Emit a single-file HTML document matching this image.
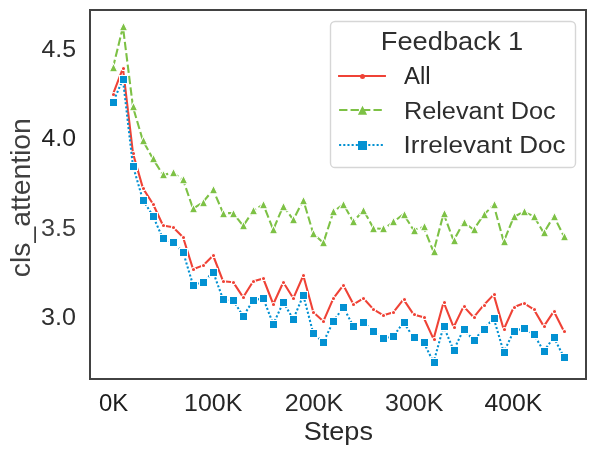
<!DOCTYPE html>
<html><head><meta charset="utf-8"><title>cls_attention vs Steps</title>
<style>html,body{margin:0;padding:0;background:#fff;width:596px;height:455px;overflow:hidden}svg{display:block}</style>
</head><body>
<svg width="596" height="455" viewBox="0 0 596 455">
<rect width="596" height="455" fill="#fff"/>
<polyline points="112.92,94.40 122.95,68.05 132.97,153.20 142.99,188.40 153.01,204.00 163.03,225.50 173.05,227.30 183.07,237.30 193.09,269.30 203.11,265.40 213.13,255.50 223.15,281.30 233.17,282.20 243.19,297.30 253.21,281.30 263.23,278.50 273.25,304.20 283.27,282.20 293.29,298.30 303.31,275.50 313.33,312.30 323.35,321.30 333.37,298.30 343.39,285.20 353.41,304.30 363.43,298.30 373.45,309.40 383.47,315.30 393.49,312.20 403.51,299.30 413.53,314.40 423.55,317.30 433.57,339.10 443.59,302.20 453.61,327.20 463.63,306.40 473.65,317.30 483.67,305.20 493.69,294.60 503.71,329.50 513.73,307.20 523.75,303.20 533.77,309.30 543.79,326.40 553.81,311.30 563.83,331.10" fill="none" stroke="#EF4236" stroke-width="2.0833" stroke-linejoin="round" stroke-linecap="square"/><g fill="#EF4236" stroke="#fff" stroke-width="1.0417"><circle cx="113.5" cy="94.5" r="2.0833"/><circle cx="123.5" cy="68.5" r="2.0833"/><circle cx="133.5" cy="153.5" r="2.0833"/><circle cx="143.5" cy="188.5" r="2.0833"/><circle cx="153.5" cy="204.5" r="2.0833"/><circle cx="163.5" cy="225.5" r="2.0833"/><circle cx="173.5" cy="227.5" r="2.0833"/><circle cx="183.5" cy="237.5" r="2.0833"/><circle cx="193.5" cy="269.5" r="2.0833"/><circle cx="203.5" cy="265.5" r="2.0833"/><circle cx="213.5" cy="255.5" r="2.0833"/><circle cx="223.5" cy="281.5" r="2.0833"/><circle cx="233.5" cy="282.5" r="2.0833"/><circle cx="243.5" cy="297.5" r="2.0833"/><circle cx="253.5" cy="281.5" r="2.0833"/><circle cx="263.5" cy="278.5" r="2.0833"/><circle cx="273.5" cy="304.5" r="2.0833"/><circle cx="283.5" cy="282.5" r="2.0833"/><circle cx="293.5" cy="298.5" r="2.0833"/><circle cx="303.5" cy="275.5" r="2.0833"/><circle cx="313.5" cy="312.5" r="2.0833"/><circle cx="323.5" cy="321.5" r="2.0833"/><circle cx="333.5" cy="298.5" r="2.0833"/><circle cx="343.5" cy="285.5" r="2.0833"/><circle cx="353.5" cy="304.5" r="2.0833"/><circle cx="363.5" cy="298.5" r="2.0833"/><circle cx="373.5" cy="309.5" r="2.0833"/><circle cx="383.5" cy="315.5" r="2.0833"/><circle cx="393.5" cy="312.5" r="2.0833"/><circle cx="404.5" cy="299.5" r="2.0833"/><circle cx="414.5" cy="314.5" r="2.0833"/><circle cx="424.5" cy="317.5" r="2.0833"/><circle cx="434.5" cy="339.5" r="2.0833"/><circle cx="444.5" cy="302.5" r="2.0833"/><circle cx="454.5" cy="327.5" r="2.0833"/><circle cx="464.5" cy="306.5" r="2.0833"/><circle cx="474.5" cy="317.5" r="2.0833"/><circle cx="484.5" cy="305.5" r="2.0833"/><circle cx="494.5" cy="294.5" r="2.0833"/><circle cx="504.5" cy="329.5" r="2.0833"/><circle cx="514.5" cy="307.5" r="2.0833"/><circle cx="524.5" cy="303.5" r="2.0833"/><circle cx="534.5" cy="309.5" r="2.0833"/><circle cx="544.5" cy="326.5" r="2.0833"/><circle cx="554.5" cy="311.5" r="2.0833"/><circle cx="564.5" cy="331.5" r="2.0833"/></g><polyline points="112.92,67.90 122.95,26.90 132.97,107.00 142.99,140.90 153.01,158.90 163.03,175.00 173.05,172.80 183.07,179.80 193.09,208.80 203.11,202.00 213.13,189.70 223.15,213.10 233.17,213.10 243.19,225.90 253.21,210.80 263.23,204.40 273.25,229.60 283.27,206.00 293.29,219.80 303.31,200.10 313.33,233.70 323.35,242.90 333.37,211.90 343.39,204.00 353.41,221.90 363.43,210.00 373.45,228.20 383.47,229.00 393.49,221.90 403.51,214.10 413.53,230.00 423.55,227.00 433.57,251.80 443.59,213.60 453.61,240.70 463.63,222.00 473.65,229.80 483.67,214.90 493.69,204.80 503.71,241.70 513.73,216.90 523.75,211.90 533.77,216.10 543.79,232.90 553.81,216.10 563.83,236.20" fill="none" stroke="#7DC145" stroke-width="2.0833" stroke-linejoin="round" stroke-dasharray="8.333,3.125"/><g fill="#7DC145" stroke="#fff" stroke-width="1.0417" stroke-linejoin="miter"><path d="M113.50,63.33L109.33,71.67L117.67,71.67Z"/><path d="M123.50,22.33L119.33,30.67L127.67,30.67Z"/><path d="M133.50,102.33L129.33,110.67L137.67,110.67Z"/><path d="M143.50,136.33L139.33,144.67L147.67,144.67Z"/><path d="M153.50,154.33L149.33,162.67L157.67,162.67Z"/><path d="M163.50,170.33L159.33,178.67L167.67,178.67Z"/><path d="M173.50,168.33L169.33,176.67L177.67,176.67Z"/><path d="M183.50,175.33L179.33,183.67L187.67,183.67Z"/><path d="M193.50,204.33L189.33,212.67L197.67,212.67Z"/><path d="M203.50,198.33L199.33,206.67L207.67,206.67Z"/><path d="M213.50,185.33L209.33,193.67L217.67,193.67Z"/><path d="M223.50,209.33L219.33,217.67L227.67,217.67Z"/><path d="M233.50,209.33L229.33,217.67L237.67,217.67Z"/><path d="M243.50,221.33L239.33,229.67L247.67,229.67Z"/><path d="M253.50,206.33L249.33,214.67L257.67,214.67Z"/><path d="M263.50,200.33L259.33,208.67L267.67,208.67Z"/><path d="M273.50,225.33L269.33,233.67L277.67,233.67Z"/><path d="M283.50,202.33L279.33,210.67L287.67,210.67Z"/><path d="M293.50,215.33L289.33,223.67L297.67,223.67Z"/><path d="M303.50,196.33L299.33,204.67L307.67,204.67Z"/><path d="M313.50,229.33L309.33,237.67L317.67,237.67Z"/><path d="M323.50,238.33L319.33,246.67L327.67,246.67Z"/><path d="M333.50,207.33L329.33,215.67L337.67,215.67Z"/><path d="M343.50,200.33L339.33,208.67L347.67,208.67Z"/><path d="M353.50,217.33L349.33,225.67L357.67,225.67Z"/><path d="M363.50,206.33L359.33,214.67L367.67,214.67Z"/><path d="M373.50,224.33L369.33,232.67L377.67,232.67Z"/><path d="M383.50,224.33L379.33,232.67L387.67,232.67Z"/><path d="M393.50,217.33L389.33,225.67L397.67,225.67Z"/><path d="M404.50,210.33L400.33,218.67L408.67,218.67Z"/><path d="M414.50,226.33L410.33,234.67L418.67,234.67Z"/><path d="M424.50,222.33L420.33,230.67L428.67,230.67Z"/><path d="M434.50,247.33L430.33,255.67L438.67,255.67Z"/><path d="M444.50,209.33L440.33,217.67L448.67,217.67Z"/><path d="M454.50,236.33L450.33,244.67L458.67,244.67Z"/><path d="M464.50,218.33L460.33,226.67L468.67,226.67Z"/><path d="M474.50,225.33L470.33,233.67L478.67,233.67Z"/><path d="M484.50,210.33L480.33,218.67L488.67,218.67Z"/><path d="M494.50,200.33L490.33,208.67L498.67,208.67Z"/><path d="M504.50,237.33L500.33,245.67L508.67,245.67Z"/><path d="M514.50,212.33L510.33,220.67L518.67,220.67Z"/><path d="M524.50,207.33L520.33,215.67L528.67,215.67Z"/><path d="M534.50,212.33L530.33,220.67L538.67,220.67Z"/><path d="M544.50,228.33L540.33,236.67L548.67,236.67Z"/><path d="M554.50,212.33L550.33,220.67L558.67,220.67Z"/><path d="M564.50,232.33L560.33,240.67L568.67,240.67Z"/></g><polyline points="112.92,102.30 122.95,79.40 132.97,166.10 142.99,200.20 153.01,216.00 163.03,239.00 173.05,242.30 183.07,252.00 193.09,285.20 203.11,282.20 213.13,272.10 223.15,299.50 233.17,300.30 243.19,316.20 253.21,300.30 263.23,298.30 273.25,324.20 283.27,302.30 293.29,319.20 303.31,295.30 313.33,333.50 323.35,342.20 333.37,321.30 343.39,307.30 353.41,326.30 363.43,322.20 373.45,331.20 383.47,338.40 393.49,336.20 403.51,322.30 413.53,337.40 423.55,342.10 433.57,362.40 443.59,326.30 453.61,350.30 463.63,329.30 473.65,340.20 483.67,329.30 493.69,318.10 503.71,352.20 513.73,331.40 523.75,328.30 533.77,334.20 543.79,351.30 553.81,337.30 563.83,357.10" fill="none" stroke="#0391D2" stroke-width="2.0833" stroke-linejoin="round" stroke-dasharray="2.083,2.083" stroke-dashoffset="2.083"/><g><rect x="109.0" y="98.0" width="9" height="9" fill="#fff"/><rect x="110.0" y="99.0" width="7" height="7" fill="#0391D2"/><rect x="119.0" y="75.0" width="9" height="9" fill="#fff"/><rect x="120.0" y="76.0" width="7" height="7" fill="#0391D2"/><rect x="129.0" y="162.0" width="9" height="9" fill="#fff"/><rect x="130.0" y="163.0" width="7" height="7" fill="#0391D2"/><rect x="139.0" y="196.0" width="9" height="9" fill="#fff"/><rect x="140.0" y="197.0" width="7" height="7" fill="#0391D2"/><rect x="149.0" y="212.0" width="9" height="9" fill="#fff"/><rect x="150.0" y="213.0" width="7" height="7" fill="#0391D2"/><rect x="159.0" y="234.0" width="9" height="9" fill="#fff"/><rect x="160.0" y="235.0" width="7" height="7" fill="#0391D2"/><rect x="169.0" y="238.0" width="9" height="9" fill="#fff"/><rect x="170.0" y="239.0" width="7" height="7" fill="#0391D2"/><rect x="179.0" y="248.0" width="9" height="9" fill="#fff"/><rect x="180.0" y="249.0" width="7" height="7" fill="#0391D2"/><rect x="189.0" y="281.0" width="9" height="9" fill="#fff"/><rect x="190.0" y="282.0" width="7" height="7" fill="#0391D2"/><rect x="199.0" y="278.0" width="9" height="9" fill="#fff"/><rect x="200.0" y="279.0" width="7" height="7" fill="#0391D2"/><rect x="209.0" y="268.0" width="9" height="9" fill="#fff"/><rect x="210.0" y="269.0" width="7" height="7" fill="#0391D2"/><rect x="219.0" y="295.0" width="9" height="9" fill="#fff"/><rect x="220.0" y="296.0" width="7" height="7" fill="#0391D2"/><rect x="229.0" y="296.0" width="9" height="9" fill="#fff"/><rect x="230.0" y="297.0" width="7" height="7" fill="#0391D2"/><rect x="239.0" y="312.0" width="9" height="9" fill="#fff"/><rect x="240.0" y="313.0" width="7" height="7" fill="#0391D2"/><rect x="249.0" y="296.0" width="9" height="9" fill="#fff"/><rect x="250.0" y="297.0" width="7" height="7" fill="#0391D2"/><rect x="259.0" y="294.0" width="9" height="9" fill="#fff"/><rect x="260.0" y="295.0" width="7" height="7" fill="#0391D2"/><rect x="269.0" y="320.0" width="9" height="9" fill="#fff"/><rect x="270.0" y="321.0" width="7" height="7" fill="#0391D2"/><rect x="279.0" y="298.0" width="9" height="9" fill="#fff"/><rect x="280.0" y="299.0" width="7" height="7" fill="#0391D2"/><rect x="289.0" y="315.0" width="9" height="9" fill="#fff"/><rect x="290.0" y="316.0" width="7" height="7" fill="#0391D2"/><rect x="299.0" y="291.0" width="9" height="9" fill="#fff"/><rect x="300.0" y="292.0" width="7" height="7" fill="#0391D2"/><rect x="309.0" y="329.0" width="9" height="9" fill="#fff"/><rect x="310.0" y="330.0" width="7" height="7" fill="#0391D2"/><rect x="319.0" y="338.0" width="9" height="9" fill="#fff"/><rect x="320.0" y="339.0" width="7" height="7" fill="#0391D2"/><rect x="329.0" y="317.0" width="9" height="9" fill="#fff"/><rect x="330.0" y="318.0" width="7" height="7" fill="#0391D2"/><rect x="339.0" y="303.0" width="9" height="9" fill="#fff"/><rect x="340.0" y="304.0" width="7" height="7" fill="#0391D2"/><rect x="349.0" y="322.0" width="9" height="9" fill="#fff"/><rect x="350.0" y="323.0" width="7" height="7" fill="#0391D2"/><rect x="359.0" y="318.0" width="9" height="9" fill="#fff"/><rect x="360.0" y="319.0" width="7" height="7" fill="#0391D2"/><rect x="369.0" y="327.0" width="9" height="9" fill="#fff"/><rect x="370.0" y="328.0" width="7" height="7" fill="#0391D2"/><rect x="379.0" y="334.0" width="9" height="9" fill="#fff"/><rect x="380.0" y="335.0" width="7" height="7" fill="#0391D2"/><rect x="389.0" y="332.0" width="9" height="9" fill="#fff"/><rect x="390.0" y="333.0" width="7" height="7" fill="#0391D2"/><rect x="400.0" y="318.0" width="9" height="9" fill="#fff"/><rect x="401.0" y="319.0" width="7" height="7" fill="#0391D2"/><rect x="410.0" y="333.0" width="9" height="9" fill="#fff"/><rect x="411.0" y="334.0" width="7" height="7" fill="#0391D2"/><rect x="420.0" y="338.0" width="9" height="9" fill="#fff"/><rect x="421.0" y="339.0" width="7" height="7" fill="#0391D2"/><rect x="430.0" y="358.0" width="9" height="9" fill="#fff"/><rect x="431.0" y="359.0" width="7" height="7" fill="#0391D2"/><rect x="440.0" y="322.0" width="9" height="9" fill="#fff"/><rect x="441.0" y="323.0" width="7" height="7" fill="#0391D2"/><rect x="450.0" y="346.0" width="9" height="9" fill="#fff"/><rect x="451.0" y="347.0" width="7" height="7" fill="#0391D2"/><rect x="460.0" y="325.0" width="9" height="9" fill="#fff"/><rect x="461.0" y="326.0" width="7" height="7" fill="#0391D2"/><rect x="470.0" y="336.0" width="9" height="9" fill="#fff"/><rect x="471.0" y="337.0" width="7" height="7" fill="#0391D2"/><rect x="480.0" y="325.0" width="9" height="9" fill="#fff"/><rect x="481.0" y="326.0" width="7" height="7" fill="#0391D2"/><rect x="490.0" y="314.0" width="9" height="9" fill="#fff"/><rect x="491.0" y="315.0" width="7" height="7" fill="#0391D2"/><rect x="500.0" y="348.0" width="9" height="9" fill="#fff"/><rect x="501.0" y="349.0" width="7" height="7" fill="#0391D2"/><rect x="510.0" y="327.0" width="9" height="9" fill="#fff"/><rect x="511.0" y="328.0" width="7" height="7" fill="#0391D2"/><rect x="520.0" y="324.0" width="9" height="9" fill="#fff"/><rect x="521.0" y="325.0" width="7" height="7" fill="#0391D2"/><rect x="530.0" y="330.0" width="9" height="9" fill="#fff"/><rect x="531.0" y="331.0" width="7" height="7" fill="#0391D2"/><rect x="540.0" y="347.0" width="9" height="9" fill="#fff"/><rect x="541.0" y="348.0" width="7" height="7" fill="#0391D2"/><rect x="550.0" y="333.0" width="9" height="9" fill="#fff"/><rect x="551.0" y="334.0" width="7" height="7" fill="#0391D2"/><rect x="560.0" y="353.0" width="9" height="9" fill="#fff"/><rect x="561.0" y="354.0" width="7" height="7" fill="#0391D2"/></g>
<rect x="89" y="9" width="498" height="2" fill="#424242"/><rect x="89" y="378" width="498" height="2" fill="#424242"/><rect x="89" y="9" width="2" height="371" fill="#424242"/><rect x="585" y="9" width="2" height="371" fill="#424242"/>
<rect x="330.5" y="21.5" width="245.0" height="146.0" rx="4.6" ry="4.6" fill="#fff" fill-opacity="0.8" stroke="#cccccc" stroke-opacity="0.8" stroke-width="1.389"/><line x1="339.1" y1="76.0" x2="384.9" y2="76.0" stroke="#EF4236" stroke-width="2.0833" stroke-linecap="square"/><circle cx="362.5" cy="76.5" r="2.5" fill="#EF4236"/><line x1="339.1" y1="110.0" x2="384.9" y2="110.0" stroke="#7DC145" stroke-width="2.0833" stroke-dasharray="8.333,3.125"/><path d="M362.5,105.8L357.9,114.8L367.1,114.8Z" fill="#7DC145"/><line x1="339.1" y1="145.0" x2="384.9" y2="145.0" stroke="#0391D2" stroke-width="2.0833" stroke-dasharray="2.083,2.083"/><rect x="358" y="141" width="9" height="9" fill="#0391D2"/>
<g font-family="'Liberation Sans', sans-serif" fill="#262626" opacity="0.999">
<text transform="translate(41.43,56.76) scale(1.0226,1)" font-size="24.36" fill="#2d2d2d">4.5</text>
<text transform="translate(41.43,145.76) scale(1.0349,1)" font-size="24.01" fill="#1f1f1f">4.0</text>
<text transform="translate(41.04,235.76) scale(1.0491,1)" font-size="24.01" fill="#3e3e3e">3.5</text>
<text transform="translate(41.04,324.76) scale(1.0467,1)" font-size="24.01" fill="#2d2d2d">3.0</text>
<text transform="translate(99.07,410.76) scale(0.9950,1)" font-size="24.01" fill="#1c1c1c">0K</text>
<text transform="translate(184.11,410.76) scale(1.0379,1)" font-size="24.01" fill="#262626">100K</text>
<text transform="translate(284.75,410.76) scale(1.0444,1)" font-size="24.01" fill="#292929">200K</text>
<text transform="translate(385.05,410.76) scale(1.0389,1)" font-size="24.01" fill="#2a2a2a">300K</text>
<text transform="translate(484.43,410.76) scale(1.0321,1)" font-size="24.01" fill="#222222">400K</text>
<text transform="translate(303.78,439.72) scale(1.0659,1)" font-size="25.39" fill="#292929">Steps</text>
<text transform="translate(380.76,49.74) scale(1.0556,1)" font-size="25.85" fill="#2f2f2f">Feedback 1</text>
<text transform="translate(403.95,84.00) scale(0.9664,1)" font-size="24.83" fill="#272727">All</text>
<text transform="translate(403.93,118.76) scale(1.0321,1)" font-size="24.49" fill="#2d2d2d">Relevant Doc</text>
<text transform="translate(403.60,152.76) scale(1.0631,1)" font-size="24.49" fill="#2d2d2d">Irrelevant Doc</text>
<text transform="translate(29.62,277.19) rotate(-90) scale(1.0468,1)" font-size="27.06" fill="#3f3f3f">cls_attention</text>
</g>
</svg>
</body></html>
